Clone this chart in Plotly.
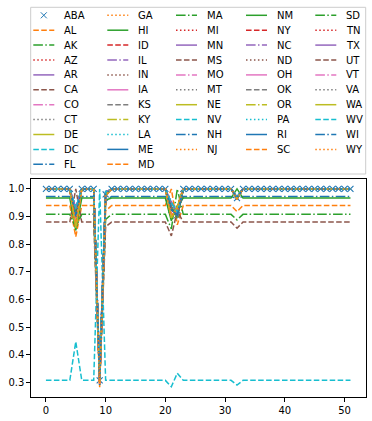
import plotly.graph_objects as go

# ---------------- data ----------------
x_vals = list(range(52))

states = ["ABA", "AL", "AK", "AZ", "AR", "CA", "CO", "CT", "DE", "DC", "FL",
          "GA", "HI", "ID", "IL", "IN", "IA", "KS", "KY", "LA", "ME", "MD",
          "MA", "MI", "MN", "MS", "MO", "MT", "NE", "NV", "NH", "NJ",
          "NM", "NY", "NC", "ND", "OH", "OK", "OR", "PA", "RI", "SC",
          "SD", "TN", "TX", "UT", "VT", "VA", "WA", "WV", "WI", "WY"]

top_a = [1.0, 1.0, 1.0, 1.0, 1.0, 0.900, 1.0, 1.0, 1.0, 0.307,
         0.980, 1.0, 1.0, 1.0, 1.0, 1.0, 1.0, 1.0, 1.0, 1.0,
         1.0, 0.925, 0.905, 1.0, 1.0, 1.0, 1.0, 1.0, 1.0, 1.0,
         1.0, 1.0, 0.967, 1.0, 1.0, 1.0, 1.0, 1.0, 1.0, 1.0,
         1.0, 1.0, 1.0, 1.0, 1.0, 1.0, 1.0, 1.0, 1.0, 1.0,
         1.0, 1.0]
top_b = [1.0, 1.0, 1.0, 1.0, 1.0, 0.880, 1.0, 1.0, 1.0, 0.295,
         0.975, 1.0, 1.0, 1.0, 1.0, 1.0, 1.0, 1.0, 1.0, 1.0,
         1.0, 0.905, 0.925, 1.0, 1.0, 1.0, 1.0, 1.0, 1.0, 1.0,
         1.0, 1.0, 0.966, 1.0, 1.0, 1.0, 1.0, 1.0, 1.0, 1.0,
         1.0, 1.0, 1.0, 1.0, 1.0, 1.0, 1.0, 1.0, 1.0, 1.0,
         1.0, 1.0]
top_c = [1.0, 1.0, 1.0, 1.0, 1.0, 0.915, 1.0, 1.0, 1.0, 0.320,
         0.985, 1.0, 1.0, 1.0, 1.0, 1.0, 1.0, 1.0, 1.0, 1.0,
         1.0, 0.935, 0.895, 1.0, 1.0, 1.0, 1.0, 1.0, 1.0, 1.0,
         1.0, 1.0, 0.968, 1.0, 1.0, 1.0, 1.0, 1.0, 1.0, 1.0,
         1.0, 1.0, 1.0, 1.0, 1.0, 1.0, 1.0, 1.0, 1.0, 1.0,
         1.0, 1.0]
top_d = [1.0, 1.0, 1.0, 1.0, 1.0, 0.860, 1.0, 1.0, 1.0, 0.300,
         0.978, 1.0, 1.0, 1.0, 1.0, 1.0, 1.0, 1.0, 1.0, 1.0,
         1.0, 0.895, 0.935, 1.0, 1.0, 1.0, 1.0, 1.0, 1.0, 1.0,
         1.0, 1.0, 0.964, 1.0, 1.0, 1.0, 1.0, 1.0, 1.0, 1.0,
         1.0, 1.0, 1.0, 1.0, 1.0, 1.0, 1.0, 1.0, 1.0, 1.0,
         1.0, 1.0]
top_e = [1.0, 1.0, 1.0, 1.0, 1.0, 0.930, 1.0, 1.0, 1.0, 0.335,
         0.990, 1.0, 1.0, 1.0, 1.0, 1.0, 1.0, 1.0, 1.0, 1.0,
         1.0, 0.950, 0.915, 1.0, 1.0, 1.0, 1.0, 1.0, 1.0, 1.0,
         1.0, 1.0, 0.970, 1.0, 1.0, 1.0, 1.0, 1.0, 1.0, 1.0,
         1.0, 1.0, 1.0, 1.0, 1.0, 1.0, 1.0, 1.0, 1.0, 1.0,
         1.0, 1.0]
fl_vals = [0.973, 0.973, 0.973, 0.973, 0.973, 0.890, 0.973, 0.973, 0.973, 0.290,
           0.955, 0.973, 0.973, 0.973, 0.973, 0.973, 0.973, 0.973, 0.973, 0.973,
           0.973, 0.900, 0.920, 0.973, 0.973, 0.973, 0.973, 0.973, 0.973, 0.973,
           0.973, 0.973, 0.965, 0.973, 0.973, 0.973, 0.973, 0.973, 0.973, 0.973,
           0.973, 0.973, 0.973, 0.973, 0.973, 0.973, 0.973, 0.973, 0.973, 0.973,
           0.973, 0.973]
hi_vals = [0.967, 0.967, 0.967, 0.967, 0.967, 0.850, 0.967, 0.967, 0.967, 0.300,
           0.960, 0.967, 0.967, 0.967, 0.967, 0.967, 0.967, 0.967, 0.967, 0.967,
           0.967, 0.885, 0.940, 0.967, 0.967, 0.967, 0.967, 0.967, 0.967, 0.967,
           0.967, 0.967, 1.000, 0.967, 0.967, 0.967, 0.967, 0.967, 0.967, 0.967,
           0.967, 0.967, 0.967, 0.967, 0.967, 0.967, 0.967, 0.967, 0.967, 0.967,
           0.967, 0.967]
al_vals = [0.940, 0.940, 0.940, 0.940, 0.940, 0.827, 0.940, 0.940, 0.940, 0.282,
           0.920, 0.940, 0.940, 0.940, 0.940, 0.940, 0.940, 0.940, 0.940, 0.940,
           0.940, 1.000, 0.870, 0.940, 0.940, 0.940, 0.940, 0.940, 0.940, 0.940,
           0.940, 0.940, 0.918, 0.940, 0.940, 0.940, 0.940, 0.940, 0.940, 0.940,
           0.940, 0.940, 0.940, 0.940, 0.940, 0.940, 0.940, 0.940, 0.940, 0.940,
           0.940, 0.940]
ak_vals = [0.908, 0.908, 0.908, 0.908, 0.908, 0.860, 0.908, 0.908, 0.908, 0.290,
           0.890, 0.908, 0.908, 0.908, 0.908, 0.908, 0.908, 0.908, 0.908, 0.908,
           0.908, 0.855, 1.000, 0.908, 0.908, 0.908, 0.908, 0.908, 0.908, 0.908,
           0.908, 0.908, 0.888, 0.908, 0.908, 0.908, 0.908, 0.908, 0.908, 0.908,
           0.908, 0.908, 0.908, 0.908, 0.908, 0.908, 0.908, 0.908, 0.908, 0.908,
           0.908, 0.908]
ca_vals = [0.880, 0.880, 0.880, 0.880, 0.880, 1.000, 0.880, 0.880, 0.880, 0.300,
           0.863, 0.880, 0.880, 0.880, 0.880, 0.880, 0.880, 0.880, 0.880, 0.880,
           0.880, 0.830, 0.920, 0.880, 0.880, 0.880, 0.880, 0.880, 0.880, 0.880,
           0.880, 0.880, 0.858, 0.880, 0.880, 0.880, 0.880, 0.880, 0.880, 0.880,
           0.880, 0.880, 0.880, 0.880, 0.880, 0.880, 0.880, 0.880, 0.880, 0.880,
           0.880, 0.880]
dc_vals = [0.307, 0.307, 0.307, 0.307, 0.307, 0.447, 0.307, 0.307, 0.307, 1.000,
           0.307, 0.307, 0.307, 0.307, 0.307, 0.307, 0.307, 0.307, 0.307, 0.307,
           0.307, 0.284, 0.333, 0.307, 0.307, 0.307, 0.307, 0.307, 0.307, 0.307,
           0.307, 0.307, 0.290, 0.307, 0.307, 0.307, 0.307, 0.307, 0.307, 0.307,
           0.307, 0.307, 0.307, 0.307, 0.307, 0.307, 0.307, 0.307, 0.307, 0.307,
           0.307, 0.307]

profiles = {"A": top_a, "B": top_b, "C": top_c, "D": top_d, "E": top_e,
            "FL": fl_vals, "HI": hi_vals, "AL": al_vals, "AK": ak_vals,
            "CA": ca_vals, "DC": dc_vals}

state_profile = {
    "ABA": "A", "AL": "AL", "AK": "AK", "AZ": "B", "AR": "C", "CA": "CA",
    "CO": "D", "CT": "E", "DE": "B", "DC": "DC", "FL": "FL", "GA": "C",
    "HI": "HI", "ID": "D", "IL": "E", "IN": "A", "IA": "B", "KS": "C",
    "KY": "D", "LA": "E", "ME": "A", "MD": "B", "MA": "C", "MI": "D",
    "MN": "E", "MS": "A", "MO": "B", "MT": "C", "NE": "D", "NV": "E",
    "NH": "A", "NJ": "B", "NM": "C", "NY": "D", "NC": "E", "ND": "A",
    "OH": "B", "OK": "C", "OR": "D", "PA": "E", "RI": "A", "SC": "B",
    "SD": "C", "TN": "D", "TX": "E", "UT": "A", "VT": "B", "VA": "C",
    "WA": "D", "WV": "E", "WI": "A", "WY": "B",
}

# ---------------- styles ----------------
W, H = 372, 421
colors = ["#1f77b4", "#ff7f0e", "#2ca02c", "#d62728", "#9467bd",
          "#8c564b", "#e377c2", "#7f7f7f", "#bcbd22", "#17becf"]
dashes = ["solid", "5.55px,2.4px", "9.6px,2.4px,1.5px,2.4px", "1.5px,2.475px"]
FONT = "DejaVu Sans"

def px_x(p):
    return p / W

def px_y(p):
    return 1 - p / H

# axes box in pixels
AX_L, AX_R, AX_T, AX_B = 30.7, 365.7, 179.0, 397.3

fig = go.Figure()
for i, st in enumerate(states):
    yv = profiles[state_profile[st]]
    col = colors[i % 10]
    if i == 0:
        fig.add_trace(go.Scatter(x=x_vals, y=yv, mode="markers", name=st,
                                 marker=dict(symbol="x-thin", size=6, color=col,
                                             line=dict(color=col, width=1.1)),
                                 showlegend=False))
    else:
        fig.add_trace(go.Scatter(x=x_vals, y=yv, mode="lines", name=st,
                                 line=dict(color=col, width=1.5, dash=dashes[i % 4]),
                                 showlegend=False))

# ---------------- custom legend (matplotlib-like, 5 columns, column-major) -------
shapes = []
annotations = []
LEG_L, LEG_R, LEG_T, LEG_B = 30.7, 365.7, 7.3, 174.0
shapes.append(dict(type="rect", xref="paper", yref="paper",
                   x0=px_x(LEG_L), x1=px_x(LEG_R), y0=px_y(LEG_B), y1=px_y(LEG_T),
                   line=dict(color="#cccccc", width=1), fillcolor="white", layer="below"))
col_line_x = [33.3, 107.3, 176.0, 246.0, 315.3]
col_text_x = [62.3, 136.3, 205.3, 275.3, 344.3]
row0, row_step = 15.3, 14.9
for i, st in enumerate(states):
    if i < 22:
        c, r = i // 11, i % 11
    else:
        c, r = 2 + (i - 22) // 10, (i - 22) % 10
    yc = row0 + row_step * r
    col = colors[i % 10]
    x0 = col_line_x[c]
    x1 = x0 + 21
    if i == 0:
        xm = (x0 + x1) / 2
        for a, b in [((xm - 3, yc - 3), (xm + 3, yc + 3)), ((xm - 3, yc + 3), (xm + 3, yc - 3))]:
            shapes.append(dict(type="line", xref="paper", yref="paper",
                               x0=px_x(a[0]), y0=px_y(a[1]), x1=px_x(b[0]), y1=px_y(b[1]),
                               line=dict(color=col, width=1)))
    else:
        shapes.append(dict(type="line", xref="paper", yref="paper",
                           x0=px_x(x0), y0=px_y(yc), x1=px_x(x1), y1=px_y(yc),
                           line=dict(color=col, width=1.5, dash=dashes[i % 4])))
    annotations.append(dict(x=px_x(col_text_x[c]), y=px_y(yc), xref="paper", yref="paper",
                            text=st, showarrow=False, xanchor="left", yanchor="middle",
                            font=dict(family=FONT, size=10, color="black")))

fig.update_layout(
    width=W, height=H,
    margin=dict(l=0, r=0, t=0, b=0, pad=0),
    paper_bgcolor="white", plot_bgcolor="white",
    font=dict(family=FONT, size=10, color="black"),
    showlegend=False,
    shapes=shapes, annotations=annotations,
    xaxis=dict(domain=[px_x(AX_L), px_x(AX_R)], range=[-2.55, 53.55],
               tickmode="linear", tick0=0, dtick=10,
               showgrid=False, zeroline=False, automargin=False,
               showline=True, linecolor="black", linewidth=0.8, mirror=True,
               ticks="outside", ticklen=3.5, tickwidth=0.8, tickcolor="black",
               tickfont=dict(family=FONT, size=10, color="black")),
    yaxis=dict(domain=[px_y(AX_B), px_y(AX_T)], range=[0.2457, 1.036],
               tickmode="linear", tick0=0.3, dtick=0.1, tickformat=".1f",
               showgrid=False, zeroline=False, automargin=False,
               showline=True, linecolor="black", linewidth=0.8, mirror=True,
               ticks="outside", ticklen=3.5, tickwidth=0.8, tickcolor="black",
               tickfont=dict(family=FONT, size=10, color="black")),
)

fig.write_html("out.html", config={"displayModeBar": False},
               post_script="document.body.style.margin='0';document.body.style.padding='0';")
